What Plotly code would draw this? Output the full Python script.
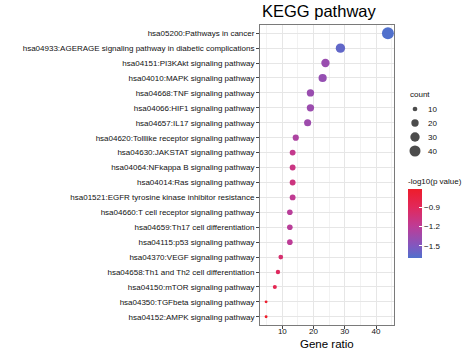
import plotly.graph_objects as go

W, H = 474, 355
FONT = "Liberation Sans, Arial, sans-serif"

pathways = [
    "hsa05200:Pathways in cancer",
    "hsa04933:AGERAGE signaling pathway in diabetic complications",
    "hsa04151:PI3KAkt signaling pathway",
    "hsa04010:MAPK signaling pathway",
    "hsa04668:TNF signaling pathway",
    "hsa04066:HIF1 signaling pathway",
    "hsa04657:IL17 signaling pathway",
    "hsa04620:Tolllike receptor signaling pathway",
    "hsa04630:JAKSTAT signaling pathway",
    "hsa04064:NFkappa B signaling pathway",
    "hsa04014:Ras signaling pathway",
    "hsa01521:EGFR tyrosine kinase inhibitor resistance",
    "hsa04660:T cell receptor signaling pathway",
    "hsa04659:Th17 cell differentiation",
    "hsa04115:p53 signaling pathway",
    "hsa04370:VEGF signaling pathway",
    "hsa04658:Th1 and Th2 cell differentiation",
    "hsa04150:mTOR signaling pathway",
    "hsa04350:TGFbeta signaling pathway",
    "hsa04152:AMPK signaling pathway",
]
gene_ratio = [43.8, 28.6, 23.8, 22.9, 19.0, 19.0, 18.1, 14.3, 13.3, 13.3,
              13.3, 13.3, 12.4, 12.4, 12.4, 9.5, 8.6, 7.6, 4.8, 4.8]
counts = [46, 30, 25, 24, 20, 20, 19, 15, 14, 14,
          14, 14, 13, 13, 13, 10, 9, 8, 5, 5]
neglog_p = [-1.685, -1.62, -1.38, -1.40, -1.38, -1.37, -1.36, -1.28, -1.15, -1.10,
            -1.08, -1.18, -1.22, -1.22, -1.20, -1.00, -0.92, -0.85, -0.64, -0.623]

legend_counts = [10, 20, 30, 40]
x_ticks = [10, 20, 30, 40]
cbar_ticks = [-1.5, -1.2, -0.9]
cbar_ticktext = ["\u22121.5", "\u22121.2", "\u22120.9"]


def diam(c):
    return -1.6 + 2.0 * c ** 0.5


colorscale = [
    [0.0, "rgb(80,112,204)"],
    [0.17, "rgb(128,88,192)"],
    [0.46, "rgb(190,60,150)"],
    [0.74, "rgb(226,40,90)"],
    [1.0, "rgb(238,28,42)"],
]

# pixel geometry -> paper fractions
px_l, px_r, px_t, px_b = 260, 394, 25, 325

fig = go.Figure()
fig.add_trace(go.Scatter(
    x=gene_ratio, y=pathways, mode="markers", showlegend=False,
    marker=dict(
        size=[diam(c) for c in counts], color=neglog_p,
        colorscale=colorscale, cmin=min(neglog_p), cmax=max(neglog_p),
        line=dict(width=0), opacity=1,
        colorbar=dict(
            x=408 / W, xanchor="left", xpad=0, ypad=0,
            y=1 - 216.5 / H, yanchor="middle",
            len=83, lenmode="pixels", thickness=14,
            outlinewidth=0,
            tickvals=cbar_ticks, ticktext=cbar_ticktext,
            ticks="inside", ticklen=3, tickcolor="white", tickwidth=1,
            tickfont=dict(size=8, color="#111", family=FONT),
            title=dict(text="-log10(p value)", side="top",
                       font=dict(size=8, color="#111", family=FONT)),
        ),
    ),
    hoverinfo="x+y",
))

# size legend keys
fig.add_trace(go.Scatter(
    x=[0] * len(legend_counts), y=[str(c) for c in legend_counts],
    mode="markers", showlegend=False, xaxis="x2", yaxis="y2",
    marker=dict(size=[diam(c) for c in legend_counts], color="black", line=dict(width=0)),
    hoverinfo="skip",
))

fig.update_layout(
    width=W, height=H,
    margin=dict(l=0, r=0, t=0, b=0),
    paper_bgcolor="white", plot_bgcolor="white",
    font=dict(family=FONT, size=8, color="#111"),
    xaxis=dict(
        domain=[px_l / W, px_r / W], range=[2.85, 45.75],
        tickvals=x_ticks, ticks="outside", ticklen=3, tickcolor="#444",
        tickfont=dict(size=8, color="#111"), ticklabelstandoff=-5,
        showgrid=True, gridcolor="#E6E6E6", gridwidth=0.8,
        minor=dict(dtick=5, tick0=0, showgrid=True, gridcolor="#F2F2F2", gridwidth=0.5),
        showline=True, linecolor="#7A7A7A", linewidth=1, mirror=True,
        zeroline=False, anchor="y",
    ),
    yaxis=dict(
        domain=[1 - px_b / H, 1 - px_t / H],
        categoryorder="array", categoryarray=pathways,
        range=[len(pathways) - 0.45, -0.55],
        ticks="outside", ticklen=3, tickcolor="#444",
        tickfont=dict(size=8, color="#111"),
        showgrid=True, gridcolor="#E6E6E6", gridwidth=0.8,
        showline=True, linecolor="#7A7A7A", linewidth=1, mirror=True,
        zeroline=False, anchor="x",
    ),
    xaxis2=dict(
        domain=[408 / W, 422 / W], range=[-1, 1], visible=False, anchor="y2",
    ),
    yaxis2=dict(
        domain=[1 - 158 / H, 1 - 102 / H],
        categoryorder="array", categoryarray=[str(c) for c in legend_counts],
        range=[len(legend_counts) - 0.5, -0.5],
        side="right", anchor="x2", showgrid=False, showline=False, zeroline=False,
        ticks="", tickfont=dict(size=8, color="#111"), ticklabelstandoff=5,
    ),
    annotations=[
        dict(text="KEGG pathway", x=px_l / W, y=1 - 11 / H, xref="paper", yref="paper",
             xanchor="left", yanchor="middle", showarrow=False,
             font=dict(size=16.5, color="black", family=FONT)),
        dict(text="Gene ratio", x=(px_l + px_r) / 2 / W, y=1 - 344 / H, xref="paper", yref="paper",
             xanchor="center", yanchor="middle", showarrow=False,
             font=dict(size=11.5, color="black", family=FONT)),
        dict(text="count", x=408 / W, y=1 - 94 / H, xref="paper", yref="paper",
             xanchor="left", yanchor="middle", showarrow=False,
             font=dict(size=8, color="#111", family=FONT)),
    ],
)

fig.write_html(
    "out.html",
    config={"displayModeBar": False},
    post_script="document.body.style.margin='0';document.body.style.overflow='hidden';",
)
